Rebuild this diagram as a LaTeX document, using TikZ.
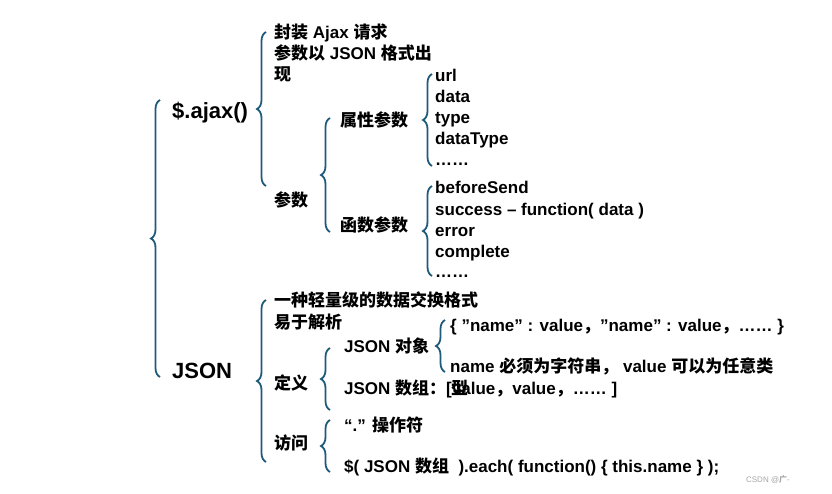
\documentclass[tikz,border=0pt]{standalone}
\usepackage{fontspec}
\setmainfont{Liberation Sans}
\newfontfamily\cjkf{Noto Sans CJK SC}
\newcommand\zh[1]{{\cjkf\bfseries #1}}
\newcommand\qd{\symbol{34}}
\usetikzlibrary{decorations.pathreplacing}
\definecolor{bc}{HTML}{1E5A7A}
\begin{document}
\begin{tikzpicture}[x=1pt,y=-1pt,
  t/.style={anchor=base west,inner sep=0pt,font=\fontsize{17}{18}\selectfont\bfseries},
  br/.style={draw=bc,line width=1.8pt,decorate,decoration={brace,amplitude=9pt,aspect=#1}},
  br/.default=0.5]
\useasboundingbox[fill=white] (0,0) rectangle (832,493);
% braces
\draw[br=0.5] (160,377) -- (160,100);
\draw[br=0.5] (266,186) -- (266,32);
\draw[br=0.5] (330,232) -- (330,118);
\draw[br=0.5] (432,166) -- (432,74);
\draw[br=0.5] (432,276) -- (432,186);
\draw[br=0.5] (266,462) -- (266,300);
\draw[br=0.5] (330,410) -- (330,348);
\draw[br=0.5] (445,372) -- (445,320);
\draw[br=0.5] (330,472) -- (330,420);
% level 1
\node[t,font=\fontsize{22}{24}\selectfont\bfseries] (ajax) at (172,118) {\$.ajax()};
\node[t,font=\fontsize{22}{24}\selectfont\bfseries] (json) at (172,378) {JSON};
% ajax
\node[t] (a1) at (274,38) {\zh{封装} Ajax \zh{请求}};
\node[t] (a2) at (274,59) {\zh{参数以} JSON \zh{格式出}};
\node[t] (a3) at (274,80) {\zh{现}};
\node[t] (a4) at (274,206) {\zh{参数}};
\node[t] (p1) at (340,126) {\zh{属性参数}};
\node[t] (p2) at (340,231) {\zh{函数参数}};
\node[t] (u1) at (435,81) {url};
\node[t] (u2) at (435,102) {data};
\node[t] (u3) at (435,123) {type};
\node[t] (u4) at (435,144) {dataType};
\node[t] (u5) at (435,165) {……};
\node[t] (f1) at (435,193) {beforeSend};
\node[t] (f2) at (435,215) {success – function( data )};
\node[t] (f3) at (435,236) {error};
\node[t] (f4) at (435,257) {complete};
\node[t] (f5) at (435,277) {……};
% json
\node[t] (j1) at (274,306) {\zh{一种轻量级的数据交换格式}};
\node[t] (j2) at (274,328) {\zh{易于解析}};
\node[t] (j3) at (274,389) {\zh{定义}};
\node[t] (j4) at (274,449) {\zh{访问}};
\node[t] (d1) at (344,352) {JSON \zh{对象}};
\node[t] (d2) at (344,394) {JSON \zh{数组：}[value\zh{，}value\zh{，}…… ]};
\node[t] (o1) at (450,331) {\{ \qd name\qd{} : value\zh{，}\qd name\qd{} : value\zh{，}…… \}};
\node[t] (o2) at (450,372) {name \zh{必须为字符串，} value \zh{可以为任意类}};
\node[t] (o3) at (451,394) {\zh{型}};
\node[t] (v1) at (344,431) {“.” \zh{操作符}};
\node[t] (v2) at (344,472) {\$( JSON \zh{数组}~~).each( function() \{ this.name \} );};
\node[anchor=base east,inner sep=0pt,text=gray!70,font=\fontsize{8}{9}\selectfont] (w) at (790,482) {CSDN @\zh{广}-};
\end{tikzpicture}
\end{document}
